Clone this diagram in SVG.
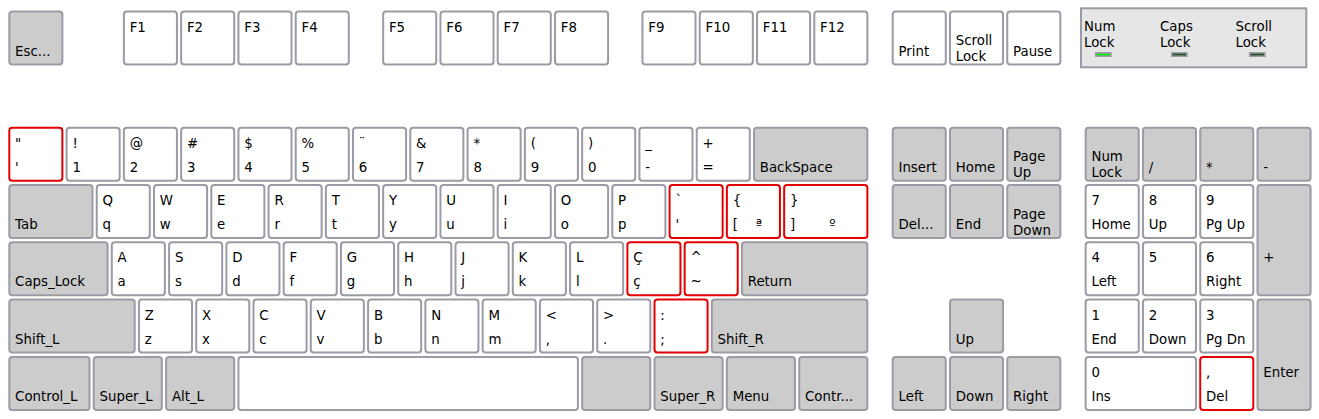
<svg xmlns="http://www.w3.org/2000/svg" width="1319" height="419" viewBox="0 0 1319 419">
<style>
.k{fill:#ffffff;stroke:#9b9ba6;stroke-width:2}
.g{fill:#cccccc}
.r{stroke:#e50000}
.s{width:53.07px;height:53px}
.t{font-family:"DejaVu Sans","Liberation Sans",sans-serif;font-size:13.33px;fill:#000000}
.lock{fill:#e6e6e6;stroke:#9b9ba6;stroke-width:2}
.led{fill:#9b9ba6}
</style>
<rect width="1319" height="419" fill="#ffffff"/>
<g id="connectors"/>

<!-- Row 0 -->
<g id="key-esc" transform="translate(9.3,11.5)"><rect class="k g" width="53.07" height="53" rx="3"/><text class="t" x="5.8" y="44">Esc...</text></g>
<g id="key-f1" transform="translate(123.87,11.5)"><rect class="k" width="53.07" height="53" rx="3"/><text class="t" x="5.8" y="20">F1</text></g>
<g id="key-f2" transform="translate(181.16,11.5)"><rect class="k" width="53.07" height="53" rx="3"/><text class="t" x="5.8" y="20">F2</text></g>
<g id="key-f3" transform="translate(238.44,11.5)"><rect class="k" width="53.07" height="53" rx="3"/><text class="t" x="5.8" y="20">F3</text></g>
<g id="key-f4" transform="translate(295.73,11.5)"><rect class="k" width="53.07" height="53" rx="3"/><text class="t" x="5.8" y="20">F4</text></g>
<g id="key-f5" transform="translate(383.16,11.5)"><rect class="k" width="53.07" height="53" rx="3"/><text class="t" x="5.8" y="20">F5</text></g>
<g id="key-f6" transform="translate(440.45,11.5)"><rect class="k" width="53.07" height="53" rx="3"/><text class="t" x="5.8" y="20">F6</text></g>
<g id="key-f7" transform="translate(497.73,11.5)"><rect class="k" width="53.07" height="53" rx="3"/><text class="t" x="5.8" y="20">F7</text></g>
<g id="key-f8" transform="translate(555.02,11.5)"><rect class="k" width="53.07" height="53" rx="3"/><text class="t" x="5.8" y="20">F8</text></g>
<g id="key-f9" transform="translate(642.45,11.5)"><rect class="k" width="53.07" height="53" rx="3"/><text class="t" x="5.8" y="20">F9</text></g>
<g id="key-f10" transform="translate(699.74,11.5)"><rect class="k" width="53.07" height="53" rx="3"/><text class="t" x="5.8" y="20">F10</text></g>
<g id="key-f11" transform="translate(757.02,11.5)"><rect class="k" width="53.07" height="53" rx="3"/><text class="t" x="5.8" y="20">F11</text></g>
<g id="key-f12" transform="translate(814.31,11.5)"><rect class="k" width="53.07" height="53" rx="3"/><text class="t" x="5.8" y="20">F12</text></g>
<g id="key-print" transform="translate(892.7,11.5)"><rect class="k" width="53.07" height="53" rx="3"/><text class="t" x="5.8" y="44">Print</text></g>
<g id="key-scroll" transform="translate(949.98,11.5)"><rect class="k" width="53.07" height="53" rx="3"/><text class="t" x="5.8" y="33.8">Scroll</text><text class="t" x="5.8" y="49.8">Lock</text></g>
<g id="key-pause" transform="translate(1007.27,11.5)"><rect class="k" width="53.07" height="53" rx="3"/><text class="t" x="5.8" y="44">Pause</text></g>

<g id="indicators">
<rect class="lock" x="1081" y="8.3" width="225.3" height="59"/>
<text class="t" x="1084" y="31">Num</text><text class="t" x="1084" y="46.7">Lock</text>
<text class="t" x="1160" y="31">Caps</text><text class="t" x="1160" y="46.7">Lock</text>
<text class="t" x="1235.5" y="31">Scroll</text><text class="t" x="1235.5" y="46.7">Lock</text>
<rect class="led" x="1095" y="52" width="16.7" height="5"/><rect x="1096.7" y="53.7" width="13.3" height="1.7" fill="#00ee00"/>
<rect class="led" x="1171" y="52" width="16.7" height="5"/><rect x="1172.7" y="53.7" width="13.3" height="1.7" fill="#1e4d1e"/>
<rect class="led" x="1249" y="52" width="16.7" height="5"/><rect x="1250.7" y="53.7" width="13.3" height="1.7" fill="#1e4d1e"/>
</g>

<!-- Row 1 -->
<g id="key-quote" transform="translate(9.3,127.7)"><rect class="k r" width="53.07" height="53" rx="3"/><text class="t" x="5.8" y="20">"</text><text class="t" x="5.8" y="44">'</text></g>
<g id="key-1" transform="translate(66.59,127.7)"><rect class="k" width="53.07" height="53" rx="3"/><text class="t" x="5.8" y="20">!</text><text class="t" x="5.8" y="44">1</text></g>
<g id="key-2" transform="translate(123.87,127.7)"><rect class="k" width="53.07" height="53" rx="3"/><text class="t" x="5.8" y="20">@</text><text class="t" x="5.8" y="44">2</text></g>
<g id="key-3" transform="translate(181.16,127.7)"><rect class="k" width="53.07" height="53" rx="3"/><text class="t" x="5.8" y="20">#</text><text class="t" x="5.8" y="44">3</text></g>
<g id="key-4" transform="translate(238.44,127.7)"><rect class="k" width="53.07" height="53" rx="3"/><text class="t" x="5.8" y="20">$</text><text class="t" x="5.8" y="44">4</text></g>
<g id="key-5" transform="translate(295.73,127.7)"><rect class="k" width="53.07" height="53" rx="3"/><text class="t" x="5.8" y="20">%</text><text class="t" x="5.8" y="44">5</text></g>
<g id="key-6" transform="translate(353.01,127.7)"><rect class="k" width="53.07" height="53" rx="3"/><text class="t" x="5.8" y="20">¨</text><text class="t" x="5.8" y="44">6</text></g>
<g id="key-7" transform="translate(410.3,127.7)"><rect class="k" width="53.07" height="53" rx="3"/><text class="t" x="5.8" y="20">&amp;</text><text class="t" x="5.8" y="44">7</text></g>
<g id="key-8" transform="translate(467.58,127.7)"><rect class="k" width="53.07" height="53" rx="3"/><text class="t" x="5.8" y="20">*</text><text class="t" x="5.8" y="44">8</text></g>
<g id="key-9" transform="translate(524.87,127.7)"><rect class="k" width="53.07" height="53" rx="3"/><text class="t" x="5.8" y="20">(</text><text class="t" x="5.8" y="44">9</text></g>
<g id="key-0" transform="translate(582.15,127.7)"><rect class="k" width="53.07" height="53" rx="3"/><text class="t" x="5.8" y="20">)</text><text class="t" x="5.8" y="44">0</text></g>
<g id="key-minus" transform="translate(639.44,127.7)"><rect class="k" width="53.07" height="53" rx="3"/><text class="t" x="5.8" y="20">_</text><text class="t" x="5.8" y="44">-</text></g>
<g id="key-equal" transform="translate(696.72,127.7)"><rect class="k" width="53.07" height="53" rx="3"/><text class="t" x="5.8" y="20">+</text><text class="t" x="5.8" y="44">=</text></g>
<g id="key-backspace" transform="translate(754.01,127.7)"><rect class="k g" width="113.37" height="53" rx="3"/><text class="t" x="5.8" y="44">BackSpace</text></g>
<g id="key-insert" transform="translate(892.7,127.7)"><rect class="k g" width="53.07" height="53" rx="3"/><text class="t" x="5.8" y="44">Insert</text></g>
<g id="key-home" transform="translate(949.98,127.7)"><rect class="k g" width="53.07" height="53" rx="3"/><text class="t" x="5.8" y="44">Home</text></g>
<g id="key-pageup" transform="translate(1007.27,127.7)"><rect class="k g" width="53.07" height="53" rx="3"/><text class="t" x="5.8" y="33.8">Page</text><text class="t" x="5.8" y="49.8">Up</text></g>
<g id="key-numlock" transform="translate(1085.66,127.7)"><rect class="k g" width="53.07" height="53" rx="3"/><text class="t" x="5.8" y="33.8">Num</text><text class="t" x="5.8" y="49.8">Lock</text></g>
<g id="key-kpdiv" transform="translate(1142.94,127.7)"><rect class="k g" width="53.07" height="53" rx="3"/><text class="t" x="5.8" y="44">/</text></g>
<g id="key-kpmul" transform="translate(1200.23,127.7)"><rect class="k g" width="53.07" height="53" rx="3"/><text class="t" x="5.8" y="44">*</text></g>
<g id="key-kpsub" transform="translate(1257.51,127.7)"><rect class="k g" width="53.07" height="53" rx="3"/><text class="t" x="5.8" y="44">-</text></g>

<!-- Row 2 -->
<g id="key-tab" transform="translate(9.3,185)"><rect class="k g" width="83.22" height="53" rx="3"/><text class="t" x="5.8" y="44">Tab</text></g>
<g id="key-q" transform="translate(96.74,185)"><rect class="k" width="53.07" height="53" rx="3"/><text class="t" x="5.8" y="20">Q</text><text class="t" x="5.8" y="44">q</text></g>
<g id="key-w" transform="translate(154.02,185)"><rect class="k" width="53.07" height="53" rx="3"/><text class="t" x="5.8" y="20">W</text><text class="t" x="5.8" y="44">w</text></g>
<g id="key-e" transform="translate(211.31,185)"><rect class="k" width="53.07" height="53" rx="3"/><text class="t" x="5.8" y="20">E</text><text class="t" x="5.8" y="44">e</text></g>
<g id="key-r" transform="translate(268.59,185)"><rect class="k" width="53.07" height="53" rx="3"/><text class="t" x="5.8" y="20">R</text><text class="t" x="5.8" y="44">r</text></g>
<g id="key-t" transform="translate(325.88,185)"><rect class="k" width="53.07" height="53" rx="3"/><text class="t" x="5.8" y="20">T</text><text class="t" x="5.8" y="44">t</text></g>
<g id="key-y" transform="translate(383.16,185)"><rect class="k" width="53.07" height="53" rx="3"/><text class="t" x="5.8" y="20">Y</text><text class="t" x="5.8" y="44">y</text></g>
<g id="key-u" transform="translate(440.45,185)"><rect class="k" width="53.07" height="53" rx="3"/><text class="t" x="5.8" y="20">U</text><text class="t" x="5.8" y="44">u</text></g>
<g id="key-i" transform="translate(497.73,185)"><rect class="k" width="53.07" height="53" rx="3"/><text class="t" x="5.8" y="20">I</text><text class="t" x="5.8" y="44">i</text></g>
<g id="key-o" transform="translate(555.02,185)"><rect class="k" width="53.07" height="53" rx="3"/><text class="t" x="5.8" y="20">O</text><text class="t" x="5.8" y="44">o</text></g>
<g id="key-p" transform="translate(612.3,185)"><rect class="k" width="53.07" height="53" rx="3"/><text class="t" x="5.8" y="20">P</text><text class="t" x="5.8" y="44">p</text></g>
<g id="key-grave" transform="translate(669.59,185)"><rect class="k r" width="53.07" height="53" rx="3"/><text class="t" x="5.8" y="20">`</text><text class="t" x="5.8" y="44">'</text></g>
<g id="key-lbrace" transform="translate(726.87,185)"><rect class="k r" width="53.07" height="53" rx="3"/><text class="t" x="5.8" y="20">{</text><text class="t" x="5.8" y="44">[</text><text class="t" x="29" y="44">ª</text></g>
<g id="key-rbrace" transform="translate(784.16,185)"><rect class="k r" width="83.22" height="53" rx="3"/><text class="t" x="5.8" y="20">}</text><text class="t" x="5.8" y="44">]</text><text class="t" x="45" y="44">º</text></g>
<g id="key-delete" transform="translate(892.7,185)"><rect class="k g" width="53.07" height="53" rx="3"/><text class="t" x="5.8" y="44">Del...</text></g>
<g id="key-end" transform="translate(949.98,185)"><rect class="k g" width="53.07" height="53" rx="3"/><text class="t" x="5.8" y="44">End</text></g>
<g id="key-pagedown" transform="translate(1007.27,185)"><rect class="k g" width="53.07" height="53" rx="3"/><text class="t" x="5.8" y="33.8">Page</text><text class="t" x="5.8" y="49.8">Down</text></g>
<g id="key-kp7" transform="translate(1085.66,185)"><rect class="k" width="53.07" height="53" rx="3"/><text class="t" x="5.8" y="20">7</text><text class="t" x="5.8" y="44">Home</text></g>
<g id="key-kp8" transform="translate(1142.94,185)"><rect class="k" width="53.07" height="53" rx="3"/><text class="t" x="5.8" y="20">8</text><text class="t" x="5.8" y="44">Up</text></g>
<g id="key-kp9" transform="translate(1200.23,185)"><rect class="k" width="53.07" height="53" rx="3"/><text class="t" x="5.8" y="20">9</text><text class="t" x="5.8" y="44">Pg Up</text></g>
<g id="key-kpadd" transform="translate(1257.51,185)"><rect class="k g" width="53.07" height="110.3" rx="3"/><text class="t" x="5.8" y="77">+</text></g>

<!-- Row 3 -->
<g id="key-caps" transform="translate(9.3,242.3)"><rect class="k g" width="98.3" height="53" rx="3"/><text class="t" x="5.8" y="44">Caps_Lock</text></g>
<g id="key-a" transform="translate(111.81,242.3)"><rect class="k" width="53.07" height="53" rx="3"/><text class="t" x="5.8" y="20">A</text><text class="t" x="5.8" y="44">a</text></g>
<g id="key-s" transform="translate(169.1,242.3)"><rect class="k" width="53.07" height="53" rx="3"/><text class="t" x="5.8" y="20">S</text><text class="t" x="5.8" y="44">s</text></g>
<g id="key-d" transform="translate(226.38,242.3)"><rect class="k" width="53.07" height="53" rx="3"/><text class="t" x="5.8" y="20">D</text><text class="t" x="5.8" y="44">d</text></g>
<g id="key-f" transform="translate(283.67,242.3)"><rect class="k" width="53.07" height="53" rx="3"/><text class="t" x="5.8" y="20">F</text><text class="t" x="5.8" y="44">f</text></g>
<g id="key-g" transform="translate(340.95,242.3)"><rect class="k" width="53.07" height="53" rx="3"/><text class="t" x="5.8" y="20">G</text><text class="t" x="5.8" y="44">g</text></g>
<g id="key-h" transform="translate(398.24,242.3)"><rect class="k" width="53.07" height="53" rx="3"/><text class="t" x="5.8" y="20">H</text><text class="t" x="5.8" y="44">h</text></g>
<g id="key-j" transform="translate(455.52,242.3)"><rect class="k" width="53.07" height="53" rx="3"/><text class="t" x="5.8" y="20">J</text><text class="t" x="5.8" y="44">j</text></g>
<g id="key-k" transform="translate(512.81,242.3)"><rect class="k" width="53.07" height="53" rx="3"/><text class="t" x="5.8" y="20">K</text><text class="t" x="5.8" y="44">k</text></g>
<g id="key-l" transform="translate(570.09,242.3)"><rect class="k" width="53.07" height="53" rx="3"/><text class="t" x="5.8" y="20">L</text><text class="t" x="5.8" y="44">l</text></g>
<g id="key-ccedil" transform="translate(627.38,242.3)"><rect class="k r" width="53.07" height="53" rx="3"/><text class="t" x="5.8" y="20">Ç</text><text class="t" x="5.8" y="44">ç</text></g>
<g id="key-tilde" transform="translate(684.66,242.3)"><rect class="k r" width="53.07" height="53" rx="3"/><text class="t" x="5.8" y="20">^</text><text class="t" x="5.8" y="44">~</text></g>
<g id="key-return" transform="translate(741.95,242.3)"><rect class="k g" width="125.43" height="53" rx="3"/><text class="t" x="5.8" y="44">Return</text></g>
<g id="key-kp4" transform="translate(1085.66,242.3)"><rect class="k" width="53.07" height="53" rx="3"/><text class="t" x="5.8" y="20">4</text><text class="t" x="5.8" y="44">Left</text></g>
<g id="key-kp5" transform="translate(1142.94,242.3)"><rect class="k" width="53.07" height="53" rx="3"/><text class="t" x="5.8" y="20">5</text></g>
<g id="key-kp6" transform="translate(1200.23,242.3)"><rect class="k" width="53.07" height="53" rx="3"/><text class="t" x="5.8" y="20">6</text><text class="t" x="5.8" y="44">Right</text></g>

<!-- Row 4 -->
<g id="key-lshift" transform="translate(9.3,299.6)"><rect class="k g" width="125.43" height="53" rx="3"/><text class="t" x="5.8" y="44">Shift_L</text></g>
<g id="key-z" transform="translate(138.95,299.6)"><rect class="k" width="53.07" height="53" rx="3"/><text class="t" x="5.8" y="20">Z</text><text class="t" x="5.8" y="44">z</text></g>
<g id="key-x" transform="translate(196.23,299.6)"><rect class="k" width="53.07" height="53" rx="3"/><text class="t" x="5.8" y="20">X</text><text class="t" x="5.8" y="44">x</text></g>
<g id="key-c" transform="translate(253.52,299.6)"><rect class="k" width="53.07" height="53" rx="3"/><text class="t" x="5.8" y="20">C</text><text class="t" x="5.8" y="44">c</text></g>
<g id="key-v" transform="translate(310.8,299.6)"><rect class="k" width="53.07" height="53" rx="3"/><text class="t" x="5.8" y="20">V</text><text class="t" x="5.8" y="44">v</text></g>
<g id="key-b" transform="translate(368.09,299.6)"><rect class="k" width="53.07" height="53" rx="3"/><text class="t" x="5.8" y="20">B</text><text class="t" x="5.8" y="44">b</text></g>
<g id="key-n" transform="translate(425.37,299.6)"><rect class="k" width="53.07" height="53" rx="3"/><text class="t" x="5.8" y="20">N</text><text class="t" x="5.8" y="44">n</text></g>
<g id="key-m" transform="translate(482.66,299.6)"><rect class="k" width="53.07" height="53" rx="3"/><text class="t" x="5.8" y="20">M</text><text class="t" x="5.8" y="44">m</text></g>
<g id="key-comma" transform="translate(539.94,299.6)"><rect class="k" width="53.07" height="53" rx="3"/><text class="t" x="5.8" y="20">&lt;</text><text class="t" x="5.8" y="44">,</text></g>
<g id="key-period" transform="translate(597.23,299.6)"><rect class="k" width="53.07" height="53" rx="3"/><text class="t" x="5.8" y="20">&gt;</text><text class="t" x="5.8" y="44">.</text></g>
<g id="key-semicolon" transform="translate(654.51,299.6)"><rect class="k r" width="53.07" height="53" rx="3"/><text class="t" x="5.8" y="20">:</text><text class="t" x="5.8" y="44">;</text></g>
<g id="key-rshift" transform="translate(711.8,299.6)"><rect class="k g" width="155.58" height="53" rx="3"/><text class="t" x="5.8" y="44">Shift_R</text></g>
<g id="key-up" transform="translate(949.98,299.6)"><rect class="k g" width="53.07" height="53" rx="3"/><text class="t" x="5.8" y="44">Up</text></g>
<g id="key-kp1" transform="translate(1085.66,299.6)"><rect class="k" width="53.07" height="53" rx="3"/><text class="t" x="5.8" y="20">1</text><text class="t" x="5.8" y="44">End</text></g>
<g id="key-kp2" transform="translate(1142.94,299.6)"><rect class="k" width="53.07" height="53" rx="3"/><text class="t" x="5.8" y="20">2</text><text class="t" x="5.8" y="44">Down</text></g>
<g id="key-kp3" transform="translate(1200.23,299.6)"><rect class="k" width="53.07" height="53" rx="3"/><text class="t" x="5.8" y="20">3</text><text class="t" x="5.8" y="44">Pg Dn</text></g>
<g id="key-kpenter" transform="translate(1257.51,299.6)"><rect class="k g" width="53.07" height="110.3" rx="3"/><text class="t" x="5.8" y="77">Enter</text></g>

<!-- Row 5 -->
<g id="key-lctrl" transform="translate(9.3,356.9)"><rect class="k g" width="80.21" height="53" rx="3"/><text class="t" x="5.8" y="44">Control_L</text></g>
<g id="key-lsuper" transform="translate(93.72,356.9)"><rect class="k g" width="68.15" height="53" rx="3"/><text class="t" x="5.8" y="44">Super_L</text></g>
<g id="key-lalt" transform="translate(166.08,356.9)"><rect class="k g" width="68.15" height="53" rx="3"/><text class="t" x="5.8" y="44">Alt_L</text></g>
<g id="key-space" transform="translate(238.44,356.9)"><rect class="k" width="339.5" height="53" rx="3"/></g>
<g id="key-ralt" transform="translate(582.15,356.9)"><rect class="k g" width="68.15" height="53" rx="3"/></g>
<g id="key-rsuper" transform="translate(654.51,356.9)"><rect class="k g" width="68.15" height="53" rx="3"/><text class="t" x="5.8" y="44">Super_R</text></g>
<g id="key-menu" transform="translate(726.87,356.9)"><rect class="k g" width="68.15" height="53" rx="3"/><text class="t" x="5.8" y="44">Menu</text></g>
<g id="key-rctrl" transform="translate(799.23,356.9)"><rect class="k g" width="68.15" height="53" rx="3"/><text class="t" x="5.8" y="44">Contr...</text></g>
<g id="key-left" transform="translate(892.7,356.9)"><rect class="k g" width="53.07" height="53" rx="3"/><text class="t" x="5.8" y="44">Left</text></g>
<g id="key-down" transform="translate(949.98,356.9)"><rect class="k g" width="53.07" height="53" rx="3"/><text class="t" x="5.8" y="44">Down</text></g>
<g id="key-right" transform="translate(1007.27,356.9)"><rect class="k g" width="53.07" height="53" rx="3"/><text class="t" x="5.8" y="44">Right</text></g>
<g id="key-kp0" transform="translate(1085.66,356.9)"><rect class="k" width="110.36" height="53" rx="3"/><text class="t" x="5.8" y="20">0</text><text class="t" x="5.8" y="44">Ins</text></g>
<g id="key-kpdel" transform="translate(1200.23,356.9)"><rect class="k r" width="53.07" height="53" rx="3"/><text class="t" x="5.8" y="20">,</text><text class="t" x="5.8" y="44">Del</text></g>
</svg>
